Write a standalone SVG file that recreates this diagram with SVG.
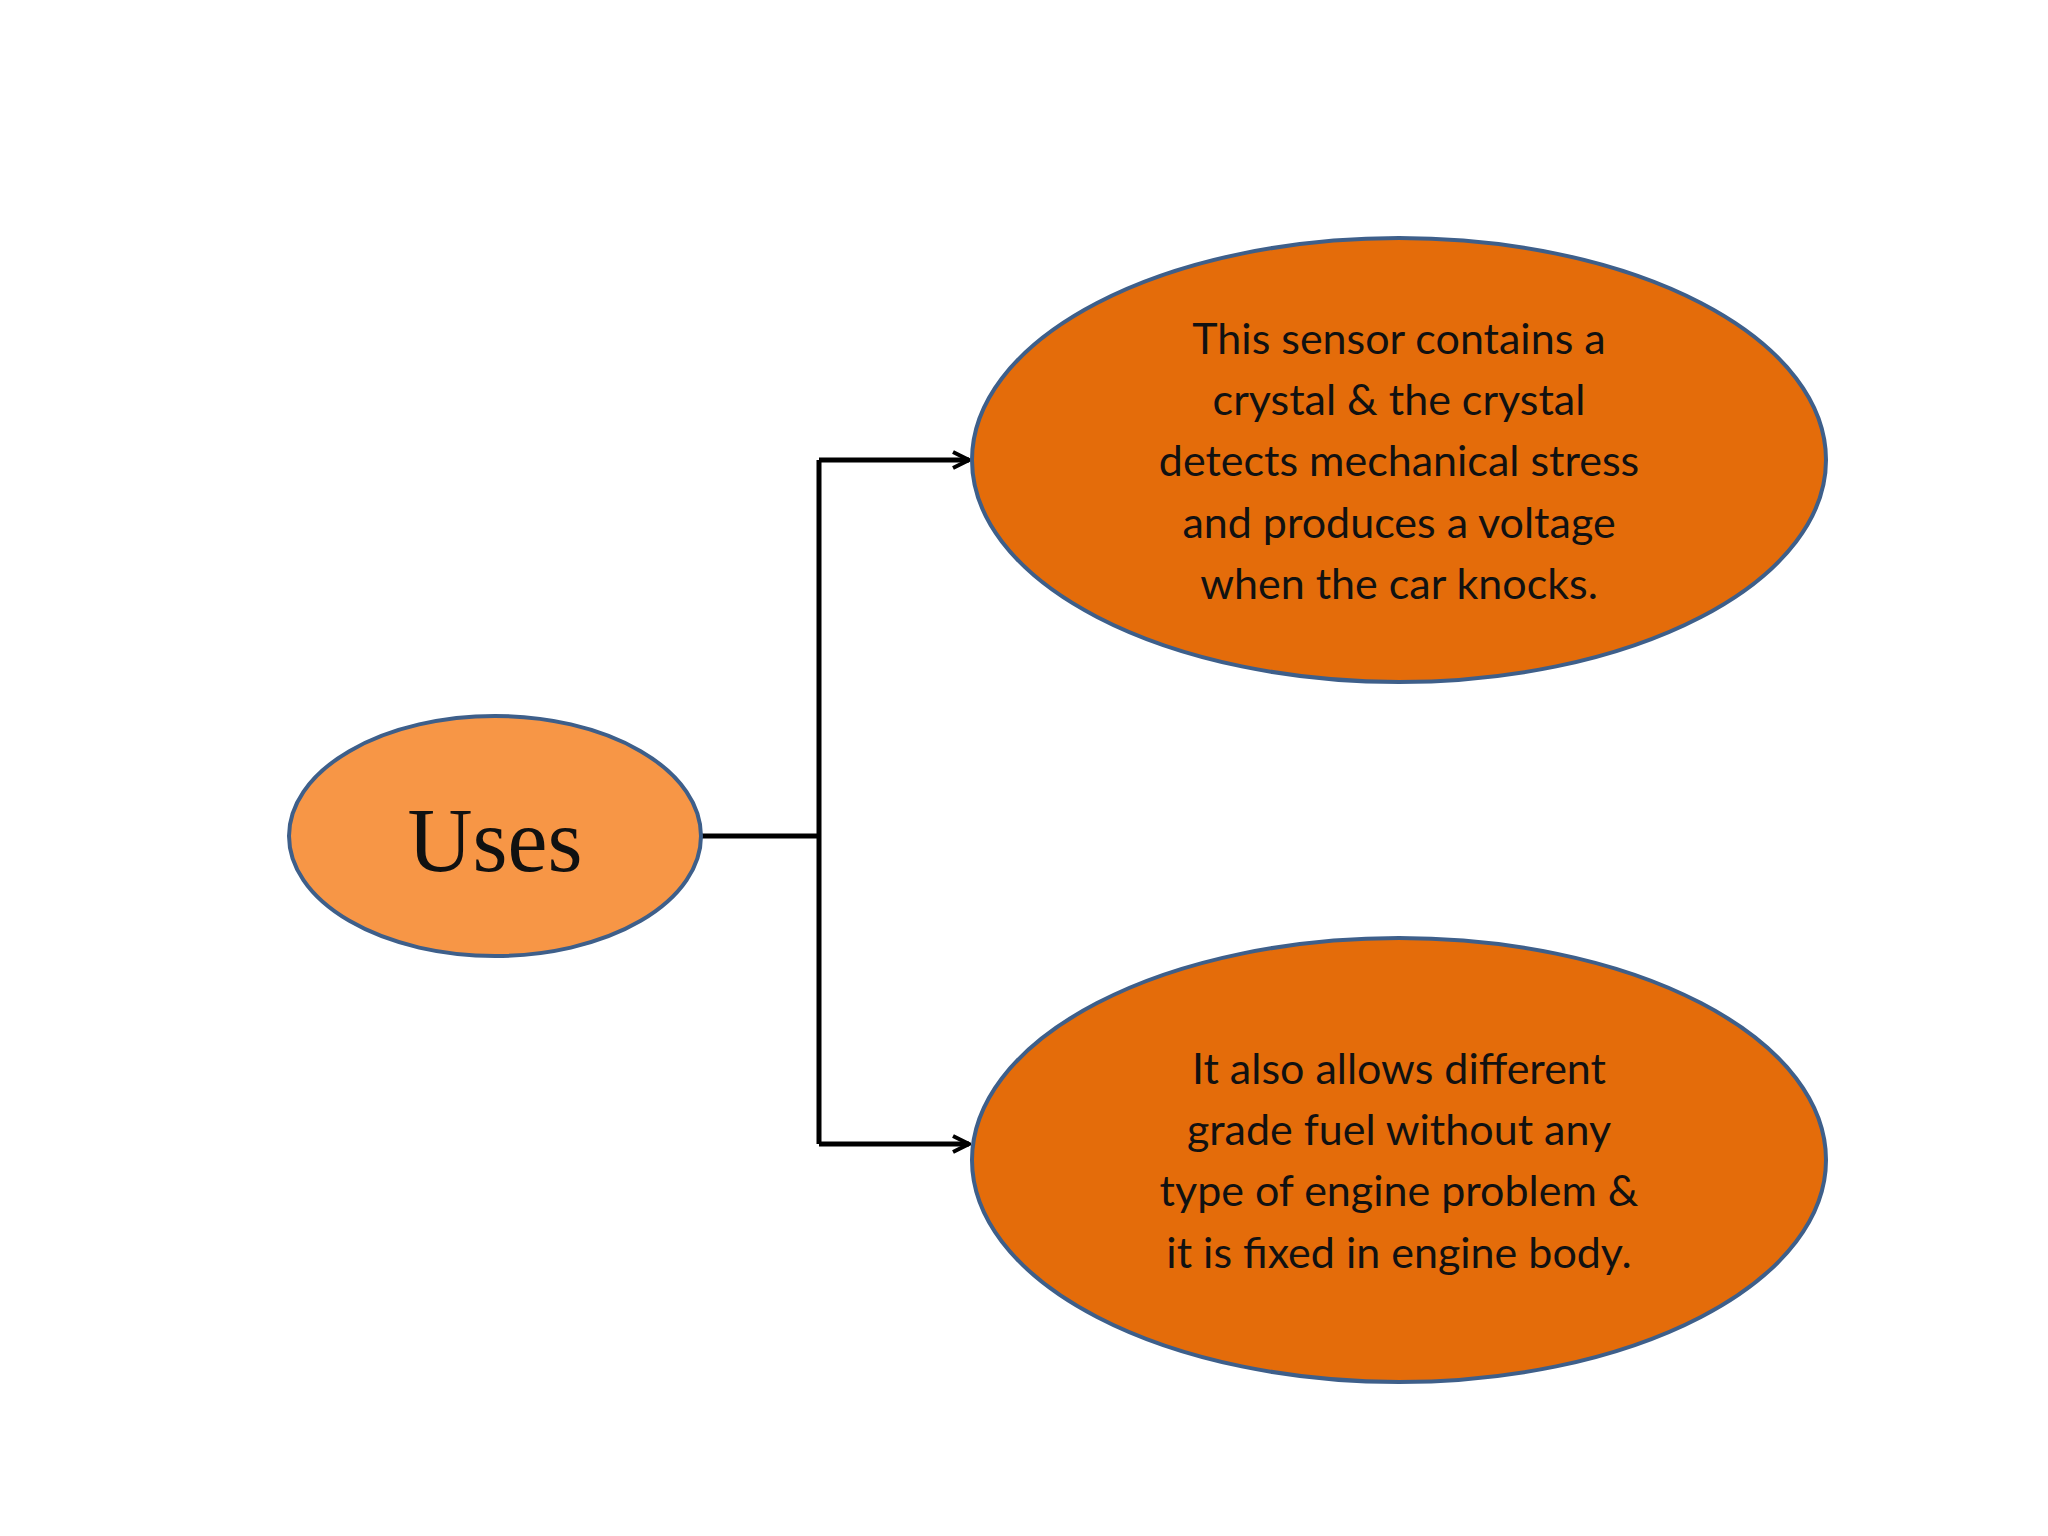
<svg xmlns="http://www.w3.org/2000/svg" width="2048" height="1536" viewBox="0 0 2048 1536">
<style>
.n{stroke:#3E5F8A;stroke-width:4}
.t{font-family:Lato,"Open Sans",sans-serif;font-size:43px;fill:#111;text-anchor:middle}
.c{fill:none;stroke:#000;stroke-width:5}
</style>
<defs><marker id="a" viewBox="0 0 20 20" refX="18" refY="10" markerWidth="20" markerHeight="20" markerUnits="userSpaceOnUse" orient="auto"><path d="M2,2 L18,10 L2,18" fill="none" stroke="#000" stroke-width="4"/></marker></defs>
<rect width="2048" height="1536" fill="#fff"/>
<g id="connectors">
<path class="c" d="M701,836 H819"/>
<path class="c" d="M819,460 V1144"/>
<path class="c" d="M819,460 H969" marker-end="url(#a)"/>
<path class="c" d="M819,1144 H969" marker-end="url(#a)"/>
</g>
<g id="uses"><ellipse class="n" cx="495" cy="836" rx="206" ry="120" fill="#F79646"/>
<text x="495" y="871" style="font-family:'Liberation Serif',serif;font-size:90px;text-anchor:middle" fill="#111">Uses</text></g>
<g id="top"><ellipse class="n" cx="1399" cy="460" rx="427" ry="222" fill="#E46C0A"/>
<text class="t"><tspan x="1399" y="354">This sensor contains a</tspan><tspan x="1399" y="415">crystal &amp; the crystal</tspan><tspan x="1399" y="476">detects mechanical stress</tspan><tspan x="1399" y="538">and produces a voltage</tspan><tspan x="1399" y="599">when the car knocks.</tspan></text></g>
<g id="bottom"><ellipse class="n" cx="1399" cy="1160" rx="427" ry="222" fill="#E46C0A"/>
<text class="t"><tspan x="1399" y="1084">It also allows different</tspan><tspan x="1399" y="1145">grade fuel without any</tspan><tspan x="1399" y="1206">type of engine problem &amp;</tspan><tspan x="1399" y="1268">it is fixed in engine body.</tspan></text></g>
</svg>
